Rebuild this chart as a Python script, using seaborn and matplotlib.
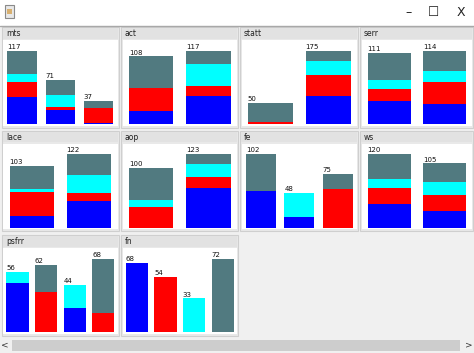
import matplotlib
matplotlib.use('Agg')
import matplotlib.pyplot as plt
from matplotlib.patches import Rectangle
import seaborn as sns
import pandas as pd

sns.set_style('white')
plt.rcParams['font.family'] = ['DejaVu Sans']

############
# Data
############
PANELS = ['mts', 'act', 'statt', 'serr', 'lace', 'aop', 'fe', 'ws', 'psfrr', 'fn']
N_BARS = [3, 2, 2, 2, 2, 2, 3, 2, 4, 4]
# one value per bar, panels one after the other (stack: blue, red, cyan, gray)
BLUE = [44, 22, 2, 21, 45, 0, 66, 36, 31, 20, 45, 0, 66, 51, 15, 0, 38, 27, 45, 0, 22, 0, 68, 0, 0, 0]
RED = [23, 6, 23, 37, 16, 5, 50, 18, 34, 39, 13, 35, 18, 0, 0, 54, 27, 27, 0, 37, 0, 18, 0, 54, 0, 0]
CYAN = [13, 18, 0, 0, 34, 0, 35, 15, 18, 5, 30, 12, 22, 0, 33, 0, 14, 21, 11, 0, 22, 0, 0, 0, 33, 0]
GRAY = [37, 25, 12, 50, 22, 45, 24, 42, 31, 39, 34, 53, 17, 51, 0, 21, 41, 30, 0, 25, 0, 50, 0, 0, 0, 72]

SEG_COLORS = ['#0000ff', '#ff0000', '#00ffff', '#517a80']

############
# Layout (pixels)
############
W, H = 474, 353
COL_X = [(3.3, 117.5), (122.5, 237), (241.5, 357), (361.5, 472)]
ROW_TOP = [40, 143.5, 248]
PLOT_H = 85.5
BASE_OFF = 1.3
MAX_H = 73.6

fig = plt.figure(figsize=(W / 100, H / 100), dpi=100)
fig.patch.set_facecolor('#f0f0f0')

# background axes in pixel coordinates (window chrome, panel frames)
bg = fig.add_axes([0, 0, 1, 1])
bg.set_xlim(0, W)
bg.set_ylim(H, 0)
bg.axis('off')

# title bar
bg.add_patch(Rectangle((0, 0), W, 25.5, facecolor='white', edgecolor='none'))
bg.plot([0, W], [25.8, 25.8], color='#a8a8a8', lw=1)
bg.add_patch(Rectangle((5, 5), 9, 13, facecolor='#e8e8e8', edgecolor='#8a8a8a', lw=0.8))
bg.add_patch(Rectangle((7, 9), 5, 5, facecolor='#d8b070', edgecolor='none'))
bg.text(409, 12.5, '\u2013', ha='center', va='center', fontsize=9, color='#222222')
bg.text(434, 12.5, '\u2610', ha='center', va='center', fontsize=9, color='#222222')
bg.text(461, 12.5, 'X', ha='center', va='center', fontsize=9, color='#222222')

# scrollbar
bg.add_patch(Rectangle((0, 337), W, 16, facecolor='#f0f0f0', edgecolor='none'))
bg.add_patch(Rectangle((12, 339.5), 448, 11, facecolor='#cdcdcd', edgecolor='none'))
bg.text(5, 345, '<', ha='center', va='center', fontsize=6.5, color='#333333')
bg.text(469, 345, '>', ha='center', va='center', fontsize=6.5, color='#333333')

############
# Panels
############
start = 0
for p, name in enumerate(PANELS):
    n = N_BARS[p]
    r, c = divmod(p, 4)
    x0, x1 = COL_X[c]
    top = ROW_TOP[r]

    # frame + header strip
    bg.add_patch(Rectangle((x0 - 1.5, top - 13), x1 - x0 + 3, PLOT_H + 15,
                           facecolor='#e9e9e9', edgecolor='#cfcfcf', lw=0.8))
    bg.add_patch(Rectangle((x0 - 0.5, top - 12), x1 - x0 + 1, 10.5,
                           facecolor='#e2e2e2', edgecolor='none'))
    bg.text(x0 + 2.5, top - 6.5, name, ha='left', va='center', fontsize=5.5, color='#222222')

    blue = BLUE[start:start + n]
    red = RED[start:start + n]
    cyan = CYAN[start:start + n]
    gray = GRAY[start:start + n]
    start += n

    df = pd.DataFrame({'bar': [str(i) for i in range(n)],
                       'blue': blue, 'red': red, 'cyan': cyan, 'gray': gray})
    df['c1'] = df['blue']
    df['c2'] = df['c1'] + df['red']
    df['c3'] = df['c2'] + df['cyan']
    df['c4'] = df['c3'] + df['gray']
    m = df['c4'].max()

    ax = fig.add_axes([x0 / W, 1 - (top + PLOT_H) / H, (x1 - x0) / W, PLOT_H / H])
    ax.set_facecolor('white')
    # draw the cumulative totals from the top down so each layer shows
    for col, color in zip(['c4', 'c3', 'c2', 'c1'], SEG_COLORS[::-1]):
        sns.barplot(data=df, x='bar', y=col, color=color, saturation=1,
                    width=0.78, linewidth=0, errorbar=None, ax=ax)
    # totals above bars
    for i, total in enumerate(df['c4']):
        ax.text(i - 0.39, total + m * 0.01, f'{total}', ha='left', va='bottom',
                fontsize=5, color='#111111')
    ax.set_xlim(-0.5, n - 0.5)
    ax.set_ylim(-BASE_OFF / MAX_H * m, (PLOT_H - BASE_OFF) / MAX_H * m)
    ax.set_xticks([])
    ax.set_yticks([])
    ax.set_xlabel('')
    ax.set_ylabel('')
    for s in ax.spines.values():
        s.set_visible(False)

fig.savefig('out.png', dpi=100, facecolor=fig.get_facecolor())
